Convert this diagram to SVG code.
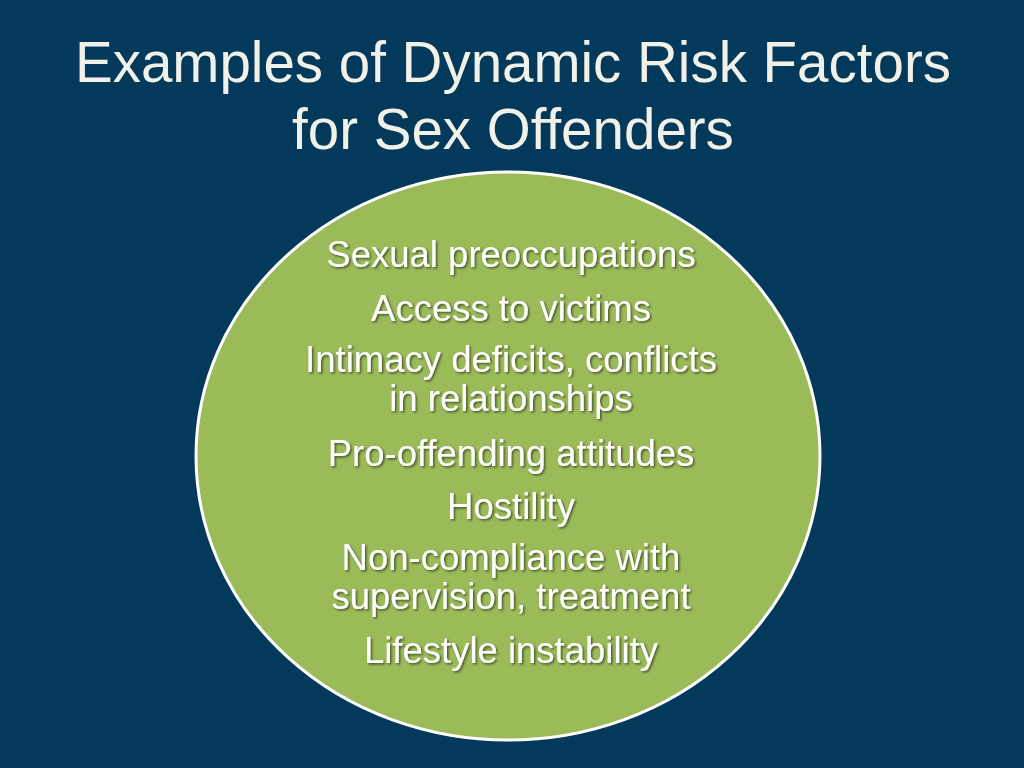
<svg xmlns="http://www.w3.org/2000/svg" width="1024" height="768" viewBox="0 0 1024 768">
<defs>
<filter id="sh" x="-10%" y="-30%" width="120%" height="160%">
<feDropShadow dx="1.5" dy="1.5" stdDeviation="0.8" flood-color="#000" flood-opacity="0.55"/>
</filter>
</defs>
<style>
.title{font-family:"Liberation Sans",Arial,sans-serif;font-size:56.5px;fill:#f2f1e8;text-anchor:middle}
.item{font-family:"Liberation Sans",Arial,sans-serif;font-size:36.5px;fill:#ffffff;text-anchor:middle;filter:url(#sh)}
</style>
<rect x="0" y="0" width="1024" height="768" fill="#033a5b"/>
<g id="title">
<text class="title" x="513" y="82">Examples of Dynamic Risk Factors</text>
<text class="title" x="513" y="149">for Sex Offenders</text>
</g>
<g id="circle">
<ellipse cx="508" cy="456" rx="312" ry="284" fill="#9bbb59" stroke="#ffffff" stroke-width="3"/>
<text class="item" x="511" y="267">Sexual preoccupations</text>
<text class="item" x="511" y="321">Access to victims</text>
<text class="item" x="511" y="372">Intimacy deficits, conflicts</text>
<text class="item" x="511" y="411">in relationships</text>
<text class="item" x="511" y="466">Pro-offending attitudes</text>
<text class="item" x="511" y="519">Hostility</text>
<text class="item" x="511" y="570">Non-compliance with</text>
<text class="item" x="511" y="609">supervision, treatment</text>
<text class="item" x="511" y="663">Lifestyle instability</text>
</g>
<g id="connectors"/>
</svg>
